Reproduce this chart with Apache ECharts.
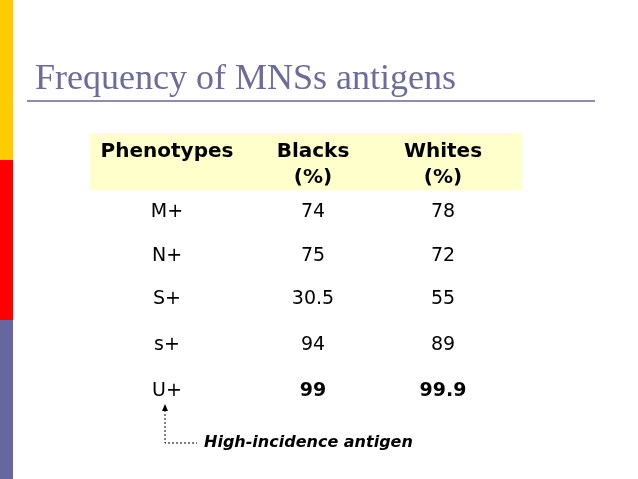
<!DOCTYPE html>
<html>
<head>
<meta charset="utf-8">
<script src="https://cdn.jsdelivr.net/npm/echarts@6/dist/echarts.min.js"></script>
<style>html,body{margin:0;padding:0;background:#fff}#chart{width:638px;height:479px}</style>
</head>
<body>
<div id="chart"></div>
<script>
// 表格数据
const headers = [["Phenotypes"], ["Blacks", "(%)"], ["Whites", "(%)"]];
const phenotypes = ["M+", "N+", "S+", "s+", "U+"];
const blacks = ["74", "75", "30.5", "94", "99"];
const whites = ["78", "72", "55", "89", "99.9"];
const boldRows = [4]; // U+ 行数值加粗
const note = "High-incidence antigen";

const colX = [167, 313, 443];
const rowY = [212, 256, 299, 345, 391];
const font = "Verdana, 'DejaVu Sans', sans-serif";

let elements = [
  // 左侧色条
  { type: "rect", shape: { x: 0, y: 0, width: 13, height: 160 }, style: { fill: "#ffcc00" } },
  { type: "rect", shape: { x: 0, y: 160, width: 13, height: 160 }, style: { fill: "#ff0000" } },
  { type: "rect", shape: { x: 0, y: 320, width: 13, height: 159 }, style: { fill: "#6666a0" } },
  // 标题
  { type: "text", x: 35, y: 98, style: { text: "Frequency of MNSs antigens", font: "36px 'Liberation Serif', serif", fill: "#6b6b9c", textVerticalAlign: "bottom" } },
  { type: "rect", shape: { x: 27, y: 100, width: 568, height: 2 }, style: { fill: "#8c8cae" } },
  // 表头背景
  { type: "rect", shape: { x: 90, y: 133, width: 432, height: 57 }, style: { fill: "#ffffcc" } },
];

headers.forEach((lines, i) => {
  elements.push({
    type: "text", x: colX[i], y: 139,
    style: { text: lines.join("\n"), font: "bold 20px " + font, fill: "#000", textAlign: "center", lineHeight: 26 },
  });
});

phenotypes.forEach((p, r) => {
  const weight = boldRows.includes(r) ? "bold " : "";
  [p, blacks[r], whites[r]].forEach((v, c) => {
    elements.push({
      type: "text", x: colX[c], y: rowY[r],
      style: {
        text: v, font: (c > 0 ? weight : "") + "19px " + font, fill: "#000",
        textAlign: "center", textVerticalAlign: "middle",
      },
    });
  });
});

// 注释箭头
elements.push(
  { type: "polyline", shape: { points: [[165, 406], [165, 443], [197, 443]] }, style: { stroke: "#000", lineWidth: 1, lineDash: [2, 2], fill: null } },
  { type: "polygon", shape: { points: [[162, 411], [168, 411], [165, 404]] }, style: { fill: "#000" } },
  { type: "text", x: 204, y: 443, style: { text: note, font: "italic bold 16px " + font, fill: "#000", textVerticalAlign: "middle" } }
);

const chart = echarts.init(document.getElementById("chart"));
chart.setOption({ animation: false, graphic: { elements: elements } });
</script>
</body>
</html>
